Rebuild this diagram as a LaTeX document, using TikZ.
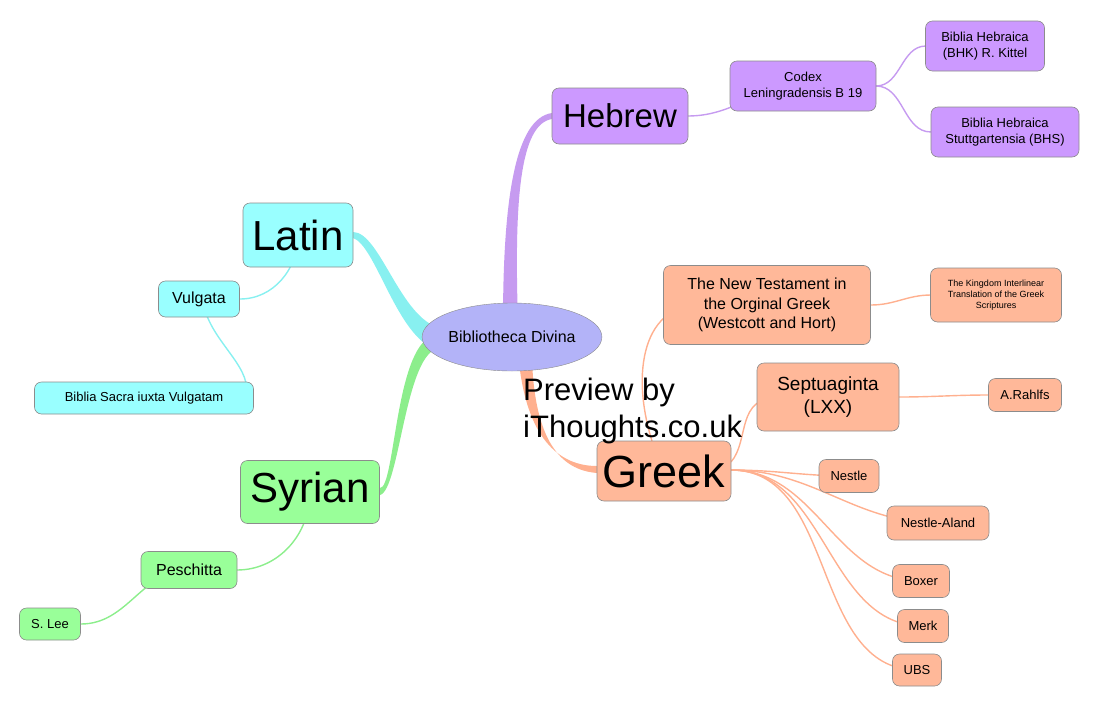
\documentclass[tikz,border=0pt]{standalone}
\usepackage{fontspec}
\setmainfont{Liberation Sans}
\usetikzlibrary{shapes.geometric}
\definecolor{pu}{HTML}{CC99FF}\definecolor{puL}{HTML}{C69BF0}
\definecolor{cy}{HTML}{99FFFF}\definecolor{cyL}{HTML}{88F0F0}
\definecolor{gr}{HTML}{99FF99}\definecolor{grL}{HTML}{8CEE8C}
\definecolor{sa}{HTML}{FFB899}\definecolor{saL}{HTML}{FFB08F}
\definecolor{ce}{HTML}{B3B3F8}
\newcommand{\fs}[1]{\fontsize{#1pt}{\dimexpr#1pt*6/5\relax}\selectfont}
\tikzset{
 bx/.style={draw=black!45,rounded corners=7pt,align=center,inner sep=0pt,line width=0.6pt},
 big/.style={bx,font=\fs{42}},
 sm/.style={bx,font=\fs{14}},
 lk/.style={line width=1.4pt},
}
\begin{document}
\begin{tikzpicture}[x=1pt,y=-1pt]
\useasboundingbox (0,0) rectangle (1100,707);
% main branches
\fill[puL] (503,322) .. controls (503,200) and (515,118) .. (552,113) -- (552,119) .. controls (520,124) and (514,200) .. (518,322) -- cycle;
\fill[cyL] (440,328) .. controls (400,318) and (380,232) .. (353,232) -- (353,238) .. controls (375,245) and (395,330) .. (432,348) -- cycle;
\fill[grL] (432,336) .. controls (395,350) and (395,488) .. (380,488) -- (380,495) .. controls (400,490) and (405,350) .. (440,348) -- cycle;
\fill[saL] (518,352) .. controls (525,440) and (560,466) .. (597,466) -- (597,473) .. controls (560,470) and (535,440) .. (532,360) -- cycle;
% child links
\draw[lk,puL] (620,116) -- (688,116) to[out=0,in=180] (803,86);
\draw[lk,puL] (876,86) to[out=0,in=180] (926,46);
\draw[lk,puL] (876,86) to[out=0,in=180] (931,132);
\draw[lk,cyL] (199,299) -- (240,299) to[out=0,in=-90] (298,235);
\draw[lk,cyL] (205,310) .. controls (215,345) and (255,370) .. (245,398);
\draw[lk,grL] (189,570) -- (237,570) to[out=0,in=-90] (310,492);
\draw[lk,grL] (50,624) -- (81,624) to[out=0,in=180] (189,570);
\draw[lk,saL] (767,305) -- (871,305) to[out=0,in=180] (931,295);
\draw[lk,saL] (828,397) -- (899,397) to[out=0,in=180] (989,395);
\draw[lk,saL] (655,450) .. controls (630,380) and (640,305) .. (700,305);
\draw[lk,saL] (731,462) .. controls (750,440) and (735,397) .. (780,397);
\foreach \y/\x in {476/849,523/938,581/921,626/923,670/917}{\draw[lk,saL] (731,470) to[out=0,in=180] (\x,\y);}
% nodes
\node[ellipse,draw=black!45,fill=ce,minimum width=172,minimum height=68,inner sep=0pt,font=\fs{16}] (c) at (512,337) {Bibliotheca Divina};
\node[bx,fill=pu,minimum width=136,minimum height=56,font=\fs{33}] (heb) at (620,116) {Hebrew};
\node[bx,fill=pu,minimum width=146,minimum height=50,font=\fs{13}] (cod) at (803,86) {Codex\\Leningradensis B 19};
\node[bx,fill=pu,minimum width=119,minimum height=50,font=\fs{13}] (bhk) at (985,46) {Biblia Hebraica\\(BHK) R. Kittel};
\node[bx,fill=pu,minimum width=148,minimum height=50,font=\fs{13}] (bhs) at (1005,132) {Biblia Hebraica\\Stuttgartensia (BHS)};
\node[big,fill=cy,minimum width=110,minimum height=64] (lat) at (298,235) {Latin};
\node[sm,fill=cy,minimum width=81,minimum height=36,font=\fs{16}] (vul) at (199,299) {Vulgata};
\node[bx,fill=cy,minimum width=219,minimum height=32,font=\fs{13}] (bsv) at (144,398) {Biblia Sacra iuxta Vulgatam};
\node[big,fill=gr,minimum width=139,minimum height=63] (syr) at (310,492) {Syrian};
\node[sm,fill=gr,minimum width=96,minimum height=37,font=\fs{16}] (pes) at (189,570) {Peschitta};
\node[bx,fill=gr,minimum width=61,minimum height=32,font=\fs{13}] (lee) at (50,624) {S. Lee};
\node[bx,fill=sa,minimum width=134,minimum height=60,font=\fs{45}] (gre) at (664,471) {Greek};
\node[bx,fill=sa,minimum width=207,minimum height=79,font=\fs{16}] (nt) at (767,305) {The New Testament in\\the Orginal Greek\\(Westcott and Hort)};
\node[bx,fill=sa,minimum width=131,minimum height=54,font=\fs{9}] (kit) at (996,295) {The Kingdom Interlinear\\Translation of the Greek\\Scriptures};
\node[bx,fill=sa,minimum width=142,minimum height=68,font=\fs{19}] (lxx) at (828,397) {Septuaginta\\(LXX)};
\node[bx,fill=sa,minimum width=73,minimum height=33,font=\fs{13}] (rah) at (1025,395) {A.Rahlfs};
\node[bx,fill=sa,minimum width=60,minimum height=33,font=\fs{13}] (nes) at (849,476) {Nestle};
\node[bx,fill=sa,minimum width=102,minimum height=34,font=\fs{13}] (na) at (938,523) {Nestle-Aland};
\node[bx,fill=sa,minimum width=57,minimum height=33,font=\fs{13}] (box) at (921,581) {Boxer};
\node[bx,fill=sa,minimum width=51,minimum height=33,font=\fs{13}] (mer) at (923,626) {Merk};
\node[bx,fill=sa,minimum width=49,minimum height=32,font=\fs{13}] (ubs) at (917,670) {UBS};
\node[anchor=north west,align=left,font=\fs{31},inner sep=0pt] (wm) at (523,378) {Preview by\\iThoughts.co.uk};
\end{tikzpicture}
\end{document}
